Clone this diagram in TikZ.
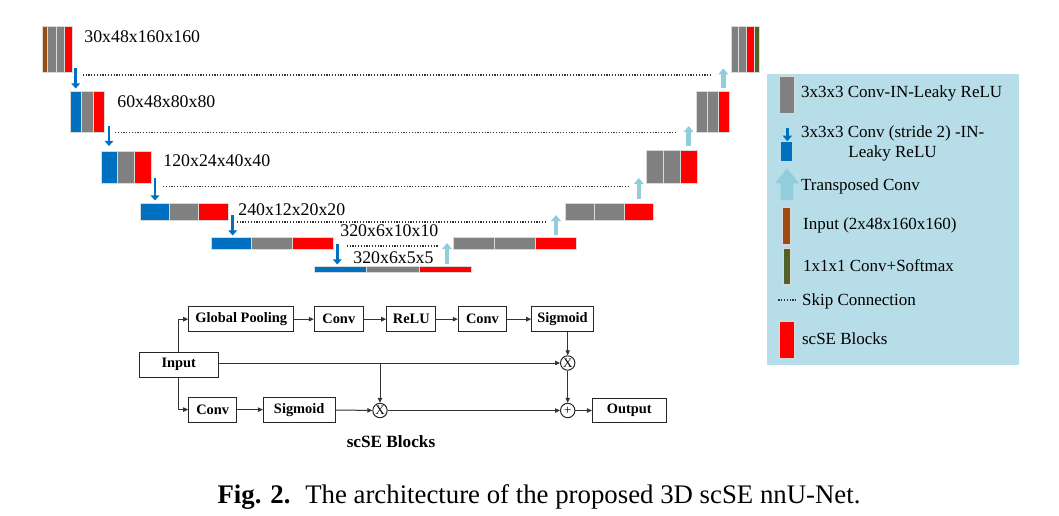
\documentclass[tikz,border=0pt]{standalone}
\usepackage{fontspec}
\setmainfont{Liberation Serif}
\usetikzlibrary{arrows.meta}
\definecolor{cgray}{HTML}{808080}
\definecolor{cred}{HTML}{FF0000}
\definecolor{cblue}{HTML}{0070C0}
\definecolor{cbrown}{HTML}{9A4C12}
\definecolor{cgreen}{HTML}{4F6228}
\definecolor{clb}{HTML}{92CDDC}
\definecolor{legbg}{HTML}{B7DDE8}
\definecolor{cedge}{HTML}{D9D9D9}
\begin{document}
\begin{tikzpicture}[x=0.5pt,y=-0.5pt,
  blk/.style={draw=cedge,line width=0.4pt},
  down/.style={cblue,line width=1.3pt,-{Triangle[width=4.4pt,length=2.6pt]}},
  up/.style={clb,line width=2.3pt,-{Triangle[width=4.8pt,length=3pt]}},
  skip/.style={black!80,line width=0.6pt,dash pattern=on 0.6pt off 0.8pt},
  dim/.style={anchor=west,inner sep=0,font=\fontsize{8.9}{10}\selectfont},
  leg/.style={anchor=west,inner sep=0,font=\fontsize{8.5}{10}\selectfont},
  box/.style={draw=black!85,line width=0.5pt,minimum height=12.4pt,inner sep=0,font=\fontsize{7.2}{8}\selectfont\bfseries},
  op/.style={circle,draw=black!85,line width=0.5pt,minimum size=7.2pt,inner sep=0,font=\fontsize{6.5}{6.5}\selectfont},
  flow/.style={black!80,line width=0.5pt,-{Triangle[length=2.5pt,width=2.2pt]}}]
\useasboundingbox (0,0) rectangle (1059,515);

% ---------------- skip connections
\draw[skip] (82.7,75) -- (711.7,75);
\draw[skip] (115,132.3) -- (676.7,132.3);
\draw[skip] (163,186.7) -- (630,186.7);
\draw[skip] (236.7,222) -- (546.7,222);
\draw[skip] (346.7,246) -- (438.3,246);

% ---------------- encoder
\fill[cbrown,blk] (42.3,26) rectangle (47.5,72.3);
\fill[cgray,blk] (47.5,26) rectangle (56,72.3);
\fill[cgray,blk] (56,26) rectangle (64.3,72.3);
\fill[cred,blk] (64.3,26) rectangle (72,72.3);

\fill[cblue,blk] (70,91) rectangle (81,132);
\fill[cgray,blk] (81,91) rectangle (93,132);
\fill[cred,blk] (93,91) rectangle (104,132);

\fill[cblue,blk] (101,151) rectangle (117,183.5);
\fill[cgray,blk] (117,151) rectangle (134.3,183.5);
\fill[cred,blk] (134.3,151) rectangle (151,183.5);

\fill[cblue,blk] (140.7,203.3) rectangle (169.3,220.5);
\fill[cgray,blk] (169.3,203.3) rectangle (198.5,220.5);
\fill[cred,blk] (198.5,203.3) rectangle (228,220.5);

\fill[cblue,blk] (211,237.7) rectangle (251.3,249.3);
\fill[cgray,blk] (251.3,237.7) rectangle (292.5,249.3);
\fill[cred,blk] (292.5,237.7) rectangle (333,249.3);

\fill[cblue,blk] (314.7,266.7) rectangle (366.2,272.5);
\fill[cgray,blk] (366.2,266.7) rectangle (419.5,272.5);
\fill[cred,blk] (419.5,266.7) rectangle (471.5,272.5);

% ---------------- decoder
\fill[cgray,blk] (453.3,237.3) rectangle (494.3,249.5);
\fill[cgray,blk] (494.3,237.3) rectangle (535.5,249.5);
\fill[cred,blk] (535.5,237.3) rectangle (576.3,249.5);

\fill[cgray,blk] (565.3,203.3) rectangle (594.3,220.7);
\fill[cgray,blk] (594.3,203.3) rectangle (624.2,220.7);
\fill[cred,blk] (624.2,203.3) rectangle (653.5,220.7);

\fill[cgray,blk] (646.7,150.7) rectangle (663.2,183.5);
\fill[cgray,blk] (663.2,150.7) rectangle (680,183.5);
\fill[cred,blk] (680,150.7) rectangle (697,183.5);

\fill[cgray,blk] (696,91) rectangle (707.2,132.7);
\fill[cgray,blk] (707.2,91) rectangle (718.2,132.7);
\fill[cred,blk] (718.2,91) rectangle (729.5,132.7);

\fill[cgray,blk] (731,26) rectangle (738.3,72.3);
\fill[cgray,blk] (738.3,26) rectangle (746.2,72.3);
\fill[cred,blk] (746.2,26) rectangle (754.5,72.3);
\fill[cgreen,blk] (754.5,26) rectangle (759,72.3);

% ---------------- down / up arrows
\draw[down] (75.7,67.7) -- (75.7,88.5);
\draw[down] (109,126) -- (109,146);
\draw[down] (155,178) -- (155,200.5);
\draw[down] (232.7,215) -- (232.7,235.5);
\draw[down] (337.3,244) -- (337.3,264.5);

\draw[up] (447,264) -- (447,243);
\draw[up] (556,235) -- (556,215);
\draw[up] (638.8,199) -- (638.8,178);
\draw[up] (688.7,145.7) -- (688.7,126);
\draw[up] (723.3,87.7) -- (723.3,68.3);

% ---------------- size labels
\node[dim] (t1) at (84,37) {30x48x160x160};
\node[dim] (t2) at (117,102) {60x48x80x80};
\node[dim] (t3) at (163,161) {120x24x40x40};
\node[dim] (t4) at (238,210) {240x12x20x20};
\node[dim] (t5) at (340,230.7) {320x6x10x10};
\node[dim] (t6) at (353,257.7) {320x6x5x5};

% ---------------- legend
\fill[legbg] (766.7,74) rectangle (1019,365);
\fill[cgray,blk] (779,76) rectangle (794.3,113.3);
\node[leg] (l1) at (800.7,93.3) {3x3x3 Conv-IN-Leaky ReLU};
\draw[cblue,line width=1.6pt,-{Triangle[width=4.6pt,length=2.8pt]}] (787.3,128) -- (787.3,141.2);
\fill[cblue] (780.7,141.7) rectangle (792.3,160.7);
\node[leg] (l2) at (800.7,133.3) {3x3x3 Conv (stride 2) -IN-};
\node[leg] (l2b) at (848,153.3) {Leaky ReLU};
\fill[clb] (787,168.3) -- (799.3,183.3) -- (793.3,183.3) -- (793.3,200) -- (780.7,200) -- (780.7,183.3) -- (775,183.3) -- cycle;
\node[leg] (l3) at (800.7,186) {Transposed Conv};
\fill[cbrown,blk] (782.7,207.7) rectangle (790.7,244);
\node[leg] (l4) at (802.7,225.7) {Input (2x48x160x160)};
\fill[cgreen,blk] (783.3,248.3) rectangle (790.7,284.3);
\node[leg] (l5) at (802.7,266) {1x1x1 Conv+Softmax};
\draw[skip] (778.3,300) -- (796,300);
\node[leg] (l6) at (801.7,301.7) {Skip Connection};
\fill[cred,blk] (779,321.7) rectangle (794.3,358.3);
\node[leg] (l7) at (801.7,338.3) {scSE Blocks};

% ---------------- scSE block
\node[box,minimum width=52.6pt] (gp) at (241.3,319.2) {Global Pooling};
\node[box,minimum width=24.5pt] (c1) at (338.8,319.2) {Conv};
\node[box,minimum width=24.6pt] (relu) at (411.3,319.2) {ReLU};
\node[box,minimum width=24.2pt] (c2) at (482.5,319.2) {Conv};
\node[box,minimum width=30.8pt] (sig1) at (562.5,319.2) {Sigmoid};
\node[box,minimum width=39.5pt] (inp) at (178.8,364.8) {Input};
\node[box,minimum width=24pt] (c3) at (212.7,409.6) {Conv};
\node[box,minimum width=35.8pt] (sig2) at (299.2,409.6) {Sigmoid};
\node[op] (mx1) at (380,410.5) {X};
\node[op] (mx2) at (567.7,363) {X};
\node[op] (plus) at (567.7,410.5) {+};
\node[box,minimum width=36.8pt] (out) at (629.2,410.5) {Output};

\draw[flow] (inp.north) |- (gp.west);
\draw[flow] (inp.south) |- (c3.west);
\draw[flow] (gp) -- (c1);
\draw[flow] (c1) -- (relu);
\draw[flow] (relu) -- (c2);
\draw[flow] (c2) -- (sig1);
\draw[flow] (c3) -- (sig2);
\draw[flow] (sig2) -- (mx1);
\draw[flow] (inp.east |- mx2) -- (mx2);
\draw[flow] (mx1 |- mx2) -- (mx1);
\draw[flow] (sig1.south -| mx2) -- (mx2);
\draw[flow] (mx2) -- (plus);
\draw[flow] (mx1) -- (plus);
\draw[flow] (plus) -- (out);

\node[font=\fontsize{8.6}{10}\selectfont\bfseries] (lbl) at (391,441.5) {scSE Blocks};

% ---------------- caption
\node (cap) at (539,497) {\fontsize{13.4}{15}\selectfont\textbf{Fig. 2.}\hspace{0.55em}The architecture of the proposed 3D scSE nnU-Net.};
\end{tikzpicture}
\end{document}
